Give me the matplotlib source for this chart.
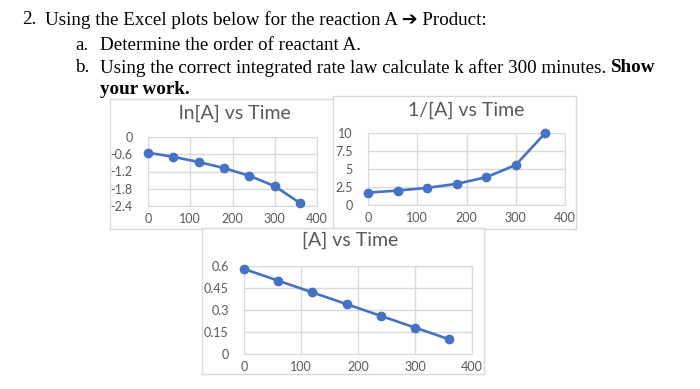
import matplotlib
matplotlib.use("Agg")
import matplotlib.pyplot as plt

# data
time = [0, 60, 120, 180, 240, 300, 360]
conc = [0.58, 0.50, 0.42, 0.34, 0.26, 0.18, 0.10]
ln_conc = [-0.545, -0.69, -0.87, -1.08, -1.35, -1.71, -2.30]
inv_conc = [1.72, 2.00, 2.38, 2.94, 3.85, 5.56, 10.0]

x_ticks = [0, 100, 200, 300, 400]
ln_ticks = [0, -0.6, -1.2, -1.8, -2.4]
ln_labels = ["0", "-0.6", "-1.2", "-1.8", "-2.4"]
inv_ticks = [0, 2.5, 5, 7.5, 10]
inv_labels = ["0", "2.5", "5", "7.5", "10"]
conc_ticks = [0, 0.15, 0.3, 0.45, 0.6]
conc_labels = ["0", "0.15", "0.3", "0.45", "0.6"]

W, H = 700, 389
fig = plt.figure(figsize=(W / 100, H / 100), dpi=100)

def rect(x0, y0, x1, y1):
    return [x0 / W, 1 - y1 / H, (x1 - x0) / W, (y1 - y0) / H]

blue = "#4472C4"
grey = "#595959"
grid = "#D9D9D9"
sans = "Lato"
serif = ["Liberation Serif", "DejaVu Serif", "DejaVu Sans"]

def chart(box, area, title, tpos, y, yticks, ylabels, ylim, z):
    outer = fig.add_axes(rect(*box))
    outer.set_zorder(z)
    outer.set_xticks([])
    outer.set_yticks([])
    for s in outer.spines.values():
        s.set_color(grid)
        s.set_linewidth(1)
    ax = fig.add_axes(rect(*area))
    ax.set_zorder(z + 1)
    ax.patch.set_alpha(0)
    ax.plot(time, y, color=blue, lw=1.9, marker="o", ms=6, zorder=3,
            clip_on=False)
    ax.set_xlim(0, 400)
    ax.set_ylim(*ylim)
    ax.set_xticks(x_ticks)
    ax.set_yticks(yticks)
    ax.set_yticklabels(ylabels)
    ax.grid(True, color=grid, lw=1)
    for s in ax.spines.values():
        s.set_color(grid)
    ax.tick_params(length=0, colors=grey, labelsize=9)
    ax.tick_params(axis="y", pad=11)
    ax.tick_params(axis="x", pad=5)
    for lab in ax.get_xticklabels() + ax.get_yticklabels():
        lab.set_family(sans)
    fig.text(tpos[0] / W, 1 - tpos[1] / H, title, ha="center", va="center",
             fontsize=14, color=grey, family=sans, zorder=z + 2)
    return ax

chart((110, 99, 336, 229), (148, 137, 317, 206), "ln[A] vs Time", (235, 113),
      ln_conc, ln_ticks, ln_labels, (-2.4, 0), 1)
chart((333, 96, 576, 229), (368, 133, 565, 205), "1/[A] vs Time", (466, 110),
      inv_conc, inv_ticks, inv_labels, (0, 10), 4)
chart((202, 228, 484, 374), (244, 266, 472, 354), "[A] vs Time", (350, 240),
      conc, conc_ticks, conc_labels, (0, 0.6), 7)

# question text
fs = 13.7
def line(x, y, s, weight="normal"):
    return fig.text(x / W, 1 - y / H, s, ha="left", va="center", fontsize=fs,
                    family=serif, weight=weight, color="black")

line(22, 20, "2.")
line(45, 20, "Using the Excel plots below for the reaction A \u2794 Product:")
line(75, 45, "a.")
line(100, 45, "Determine the order of reactant A.")
line(75, 68, "b.")
t = line(100, 68, "Using the correct integrated rate law calculate k after 300 minutes. ")
r = fig.canvas.get_renderer()
bb = t.get_window_extent(renderer=r)
fig.text(bb.x1 / W, 1 - 68 / H, "Show", ha="left", va="center", fontsize=fs,
         family=serif, weight="bold")
line(100, 89, "your work.", weight="bold")

fig.savefig("out.png", dpi=100)
